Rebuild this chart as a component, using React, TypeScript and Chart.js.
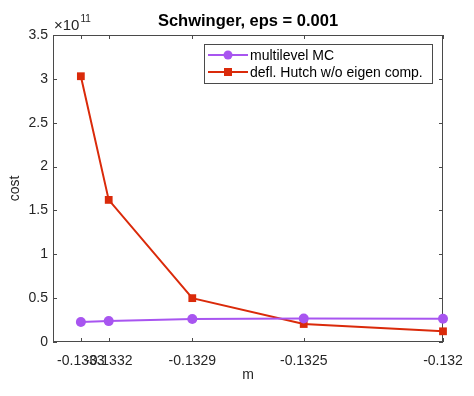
import React, { useEffect, useRef } from "react";
import { Chart, registerables } from "chart.js";

Chart.register(...registerables);

const mValues = [-0.1333, -0.1332, -0.1329, -0.1325, -0.132];
const xTickLabels = ["-0.1333", "-0.1332", "-0.1329", "-0.1325", "-0.132"];
const multilevelMC = [0.228e11, 0.238e11, 0.262e11, 0.268e11, 0.265e11];
const deflHutch = [3.03e11, 1.62e11, 0.5e11, 0.205e11, 0.122e11];
const yTicks = [0, 0.5e11, 1e11, 1.5e11, 2e11, 2.5e11, 3e11, 3.5e11];
const seriesNames = ["multilevel MC", "defl. Hutch w/o eigen comp."];
const titleText = "Schwinger, eps = 0.001";

const PURPLE = "rgb(168,85,240)";
const RED = "rgb(218,42,10)";
const AXIS = "#4a4a4a";
const FONT = "'Liberation Sans', Arial, sans-serif";

export default function App() {
  const ref = useRef<HTMLCanvasElement | null>(null);
  useEffect(() => {
    document.body.style.margin = "0";
    const canvas = ref.current!;
    const decor = {
      id: "decor",
      beforeDatasetsDraw(chart: any) {
        const ctx = chart.ctx;
        const a = chart.chartArea;
        const xs = chart.scales.x;
        const ys = chart.scales.y;
        ctx.save();
        ctx.strokeStyle = AXIS;
        ctx.lineWidth = 1;
        ctx.strokeRect(a.left + 0.5, a.top + 0.5, a.right - a.left - 1, a.bottom - a.top - 1);
        const tl = 4;
        ctx.beginPath();
        xTickLabels.forEach((_, i) => {
          const px = Math.round(xs.getPixelForValue(mValues[i])) + 0.5;
          ctx.moveTo(px, a.bottom);
          ctx.lineTo(px, a.bottom - tl);
          ctx.moveTo(px, a.top);
          ctx.lineTo(px, a.top + tl);
        });
        yTicks.forEach((v) => {
          const py = Math.round(ys.getPixelForValue(v)) + 0.5;
          ctx.moveTo(a.left, py);
          ctx.lineTo(a.left + tl, py);
          ctx.moveTo(a.right, py);
          ctx.lineTo(a.right - tl, py);
        });
        ctx.stroke();
        ctx.restore();
      },
      afterDraw(chart: any) {
        const ctx = chart.ctx;
        const a = chart.chartArea;
        ctx.save();
        // title
        ctx.fillStyle = "#000";
        ctx.font = `bold 16.5px ${FONT}`;
        ctx.textAlign = "center";
        ctx.textBaseline = "middle";
        ctx.fillText(titleText, (a.left + a.right) / 2, 21);
        // exponent
        ctx.fillStyle = "#262626";
        ctx.font = `15px ${FONT}`;
        ctx.textAlign = "left";
        ctx.fillText("\u00d710", a.left + 1, 26);
        const w = ctx.measureText("\u00d710").width;
        ctx.font = `10px ${FONT}`;
        ctx.fillText("11", a.left + 1 + w + 1, 19);
        // axis titles
        ctx.font = `14px ${FONT}`;
        ctx.textAlign = "center";
        ctx.fillText("m", (a.left + a.right) / 2, 375);
        ctx.save();
        ctx.translate(15, (a.top + a.bottom) / 2);
        ctx.rotate(-Math.PI / 2);
        ctx.fillText("cost", 0, 0);
        ctx.restore();
        // legend
        const lx = 204, ly = 44, lw = 228, lh = 39;
        ctx.fillStyle = "#fff";
        ctx.fillRect(lx, ly, lw, lh);
        ctx.strokeStyle = AXIS;
        ctx.lineWidth = 1;
        ctx.strokeRect(lx + 0.5, ly + 0.5, lw, lh);
        const rows = [ly + 11, ly + 28];
        const colors = [PURPLE, RED];
        rows.forEach((ry, i) => {
          ctx.strokeStyle = colors[i];
          ctx.fillStyle = colors[i];
          ctx.lineWidth = 2;
          ctx.beginPath();
          ctx.moveTo(lx + 4, ry);
          ctx.lineTo(lx + 44, ry);
          ctx.stroke();
          if (i === 0) {
            ctx.beginPath();
            ctx.arc(lx + 24, ry, 4.5, 0, Math.PI * 2);
            ctx.fill();
          } else {
            ctx.fillRect(lx + 24 - 4, ry - 4, 8, 8);
          }
          ctx.fillStyle = "#000";
          ctx.font = `14px ${FONT}`;
          ctx.textAlign = "left";
          ctx.textBaseline = "middle";
          ctx.fillText(seriesNames[i], lx + 46, ry + 1);
        });
        ctx.restore();
      },
    };
    const chart = new Chart(canvas, {
      type: "line",
      data: {
        datasets: [
          {
            label: seriesNames[0],
            data: mValues.map((m, i) => ({ x: m, y: multilevelMC[i] })),
            borderColor: PURPLE,
            backgroundColor: PURPLE,
            borderWidth: 2,
            pointStyle: "circle",
            pointRadius: 5,
            pointBorderWidth: 0,
            clip: false,
          },
          {
            label: seriesNames[1],
            data: mValues.map((m, i) => ({ x: m, y: deflHutch[i] })),
            borderColor: RED,
            backgroundColor: RED,
            borderWidth: 2,
            pointStyle: "rect",
            pointRadius: 5.5,
            pointBorderWidth: 0,
            clip: false,
          },
        ],
      },
      options: {
        responsive: false,
        animation: false,
        layout: { padding: { top: 35, right: 31, left: 0, bottom: 0 } },
        plugins: { legend: { display: false }, tooltip: { enabled: false }, title: { display: false } },
        scales: {
          x: {
            type: "linear",
            min: -0.1334,
            max: -0.132,
            grid: { display: false },
            border: { display: false },
            afterBuildTicks: (s: any) => {
              s.ticks = mValues.map((v) => ({ value: v }));
            },
            afterFit: (s: any) => {
              s.height = 54;
            },
            ticks: {
              autoSkip: false,
              maxRotation: 0,
              padding: 3,
              color: "#262626",
              font: { family: FONT, size: 14 },
              callback: (v: any) => {
                const i = mValues.findIndex((m) => Math.abs(m - v) < 1e-9);
                return i >= 0 ? xTickLabels[i] : "";
              },
            },
          },
          y: {
            type: "linear",
            min: 0,
            max: 3.5e11,
            grid: { display: false, drawTicks: false },
            border: { display: false },
            afterBuildTicks: (s: any) => {
              s.ticks = yTicks.map((v) => ({ value: v }));
            },
            afterFit: (s: any) => {
              s.width = 53;
            },
            ticks: {
              padding: 5,
              color: "#262626",
              font: { family: FONT, size: 14 },
              callback: (v: any) => String(Number(v) / 1e11),
            },
          },
        },
      },
      plugins: [decor],
    } as any);
    return () => chart.destroy();
  }, []);
  return (
    <div style={{ width: 474, height: 396 }}>
      <canvas ref={ref} width={474} height={396} style={{ display: "block" }} />
    </div>
  );
}
